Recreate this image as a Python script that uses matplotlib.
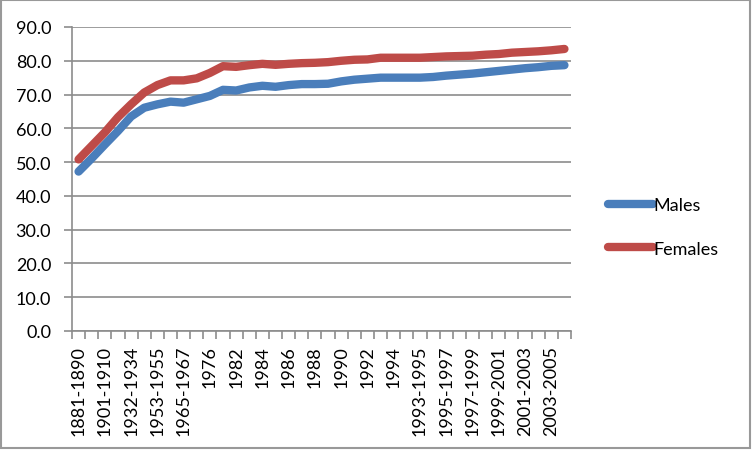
import matplotlib
matplotlib.use("Agg")
import matplotlib.pyplot as plt
from matplotlib.patches import Rectangle

periods = ["1881-1890", "1891-1900", "1901-1910", "1920-1922", "1932-1934",
           "1946-1948", "1953-1955", "1960-1962", "1965-1967", "1970-1972",
           "1976", "1981", "1982", "1983", "1984", "1985", "1986", "1987",
           "1988", "1989", "1990", "1991", "1992", "1993", "1994", "1995",
           "1993-1995", "1994-1996", "1995-1997", "1996-1998", "1997-1999",
           "1998-2000", "1999-2001", "2000-2002", "2001-2003", "2002-2004",
           "2003-2005", "2004-2006"]
males = [47.2, 51.1, 55.2, 59.2, 63.5, 66.1, 67.1, 67.9, 67.6, 68.6,
         69.6, 71.4, 71.2, 72.1, 72.6, 72.3, 72.8, 73.1, 73.1, 73.2,
         73.9, 74.4, 74.7, 75.0, 75.0, 75.0, 75.0, 75.2, 75.6, 75.9,
         76.2, 76.6, 77.0, 77.4, 77.8, 78.1, 78.5, 78.7]
females = [50.8, 54.8, 58.8, 63.3, 67.1, 70.6, 72.8, 74.2, 74.2, 74.8,
           76.4, 78.4, 78.2, 78.7, 79.1, 78.8, 79.1, 79.3, 79.4, 79.6,
           80.0, 80.3, 80.4, 80.9, 80.9, 80.9, 80.9, 81.1, 81.3, 81.4,
           81.5, 81.8, 82.0, 82.4, 82.6, 82.8, 83.1, 83.5]
series_names = ["Males", "Females"]
y_ticks = [0, 10, 20, 30, 40, 50, 60, 70, 80, 90]

blue = "#4a7ebb"
red = "#be4b48"
grid_c = "#8c8c8c"

plt.rcParams['font.family'] = ['Lato', 'DejaVu Sans']

fig = plt.figure(figsize=(7.52, 4.52), dpi=100)
ax = fig.add_axes([72/752, 1-332/452, (571-72)/752, (332-28)/452])

x = list(range(len(periods)))
l1, = ax.plot(x, males, color=blue, lw=6, solid_capstyle='round', solid_joinstyle='round', zorder=3)
l2, = ax.plot(x, females, color=red, lw=6, solid_capstyle='round', solid_joinstyle='round', zorder=3)

ax.set_xlim(-0.5, len(periods) - 0.5)
ax.set_ylim(0, 90)
ax.set_yticks(y_ticks)
ax.set_yticklabels([f"{v:.1f}" for v in y_ticks], fontsize=13)
ax.yaxis.grid(True, color=grid_c, lw=1.2)
ax.set_axisbelow(True)

ax.set_xticks(x[::2])
ax.set_xticklabels(periods[::2], rotation=90, fontsize=13)
ax.set_xticks([i - 0.5 for i in range(len(periods) + 1)], minor=True)
ax.tick_params(axis='x', which='major', length=0, pad=10)
ax.tick_params(axis='x', which='minor', length=6, color=grid_c, width=1.2)
ax.tick_params(axis='y', length=6, color=grid_c, width=1.2, pad=9)

for s in ['top', 'right']:
    ax.spines[s].set_visible(False)
for s in ['left', 'bottom']:
    ax.spines[s].set_color(grid_c)
    ax.spines[s].set_linewidth(1.2)

leg = fig.legend(handles=[l1, l2], labels=series_names, loc='center left',
                 bbox_to_anchor=(592/752, 1-228/452), frameon=False,
                 fontsize=13, handlelength=2.5, handletextpad=0.0,
                 labelspacing=1.5)

fig.patches.append(Rectangle((1/752, 3/452), 749/752, 448/452, transform=fig.transFigure,
                             fill=False, edgecolor="#999999", lw=1.5))

fig.savefig("out.png", dpi=100)
